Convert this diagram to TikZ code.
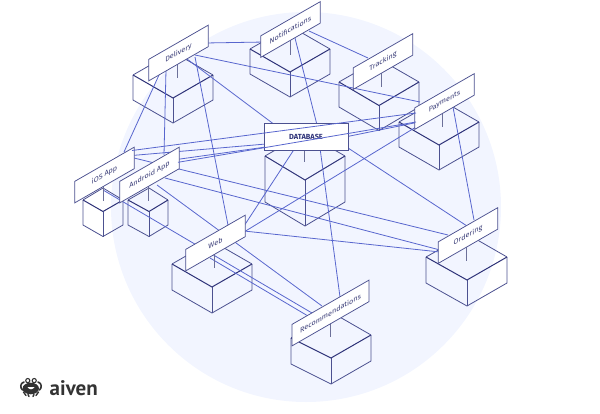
\documentclass[tikz,border=0pt]{standalone}
\usepackage{fontspec}
\setmainfont{Fira Sans}
\newfontfamily\logofont{PT Sans}
\definecolor{bg}{HTML}{F2F5FF}
\definecolor{edge}{HTML}{4C5190}
\definecolor{edgedark}{HTML}{2E3278}
\definecolor{stickc}{HTML}{6C7099}
\definecolor{linkc}{HTML}{5866CE}
\definecolor{ink}{HTML}{3A3D78}
\definecolor{logoc}{HTML}{333333}
% #1 left, #2 front, #3 right, #4 back of the top face; #5 height
\newcommand{\crate}[5]{%
  \draw[boxedge] (#2) ++(0,#5) -- (#2);
  \draw[boxedge] (#1) -- ++(0,#5) -- ($(#2)+(0,#5)$) -- ($(#3)+(0,#5)$) -- (#3);
  \draw[boxedge] (#1) -- (#4) -- (#3);
  \draw[boxtop] (#1) -- (#2) -- (#3);
}
\usetikzlibrary{calc}
\tikzset{
  boxedge/.style={draw=edge,line width=.8pt},
  boxtop/.style={draw=edgedark,line width=1pt},
  stickline/.style={draw=stickc,line width=1pt},
  link/.style={draw=linkc,line width=.8pt},
  tag/.style={draw=edge,fill=white,line width=.75pt,yslant=.575,transform shape,inner sep=0pt,
    minimum width=59.5pt,minimum height=21.5pt,text=ink,font=\fontsize{7.2}{9}\selectfont},
  dbtag/.style={draw=edge,fill=white,line width=.85pt,inner sep=0pt,minimum width=84pt,minimum height=27pt,
    text=edgedark,font=\fontsize{7.4}{9}\selectfont\bfseries},
}
\begin{document}
\begin{tikzpicture}[x=1pt,y=-1pt]
\useasboundingbox (0,0) rectangle (600,413);
\fill[bg] (306,207) circle (195pt);

% crates
\crate{133,75}{173,98}{213,75}{173,52}{25}
\crate{250,49}{290,72}{330,49}{290,26}{25}
\crate{339,82}{379,105.5}{419,82}{379,59}{25}
\crate{399,122}{439,145}{479,122}{439,99}{25}
\crate{265,156}{305,180}{345,156}{305,133}{46}
\crate{83,200}{103,211.5}{123,200}{103,188}{25}
\crate{128,200}{149,211.5}{168,200}{149,188}{25}
\crate{172,264}{212,287}{252,264}{212,241}{26}
\crate{426,257}{467,280}{507,257}{467,234}{26}
\crate{291,338}{331,358}{371,335}{331,312}{26}

% connector ends
\coordinate (delA) at (205,43);
\coordinate (delB) at (195,55);
\coordinate (delC) at (187,59);
\coordinate (delD) at (159,75);
\coordinate (delE) at (166,70);
\coordinate (delF) at (195,57);
\coordinate (notA) at (265,42);
\coordinate (notB) at (309,31);
\coordinate (notC) at (295,38);
\coordinate (traA) at (368,58);
\coordinate (payA) at (420,102);
\coordinate (payB) at (416,113);
\coordinate (payC) at (416,122);
\coordinate (payD) at (416,122.6);
\coordinate (payE) at (416,127);
\coordinate (payF) at (453,107);
\coordinate (dbA) at (275,125);
\coordinate (dbB) at (317,125);
\coordinate (dbC) at (266,144);
\coordinate (dbD) at (266,147);
\coordinate (dbE) at (345,137);
\coordinate (dbF) at (295,148);
\coordinate (dbG) at (320,148);
\coordinate (dbH) at (345,146);
\coordinate (iosA) at (124,152);
\coordinate (iosB) at (132,150.5);
\coordinate (iosC) at (132,155.5);
\coordinate (iosD) at (132,157.5);
\coordinate (iosE) at (103,190);
\coordinate (andA) at (164,155);
\coordinate (andB) at (178,159.3);
\coordinate (andC) at (178,162.3);
\coordinate (andD) at (165,178);
\coordinate (andE) at (157,185);
\coordinate (webA) at (228,225);
\coordinate (webB) at (244,226);
\coordinate (webC) at (244,232);
\coordinate (webD) at (244,231);
\coordinate (webE) at (210,258);
\coordinate (ordA) at (448,235);
\coordinate (ordB) at (440,250);
\coordinate (ordC) at (440,252);
\coordinate (ordD) at (467,226);
\coordinate (ordE) at (474,220);
\coordinate (recA) at (340,297);
\coordinate (recB) at (322,306);
\coordinate (recC) at (312,313);
\coordinate (recD) at (308,316);

% connectors
\draw[link] (delA) -- (notA);
\draw[link] (delB) -- (payA);
\draw[link] (delC) -- (dbA);
\draw[link] (delD) -- (iosA);
\draw[link] (delE) -- (andA);
\draw[link] (delF) -- (webA);
\draw[link] (notB) -- (traA);
\draw[link] (notC) -- (dbB);
\draw[link] (dbG) -- (recA);
\draw[link] (iosC) -- (dbC);
\draw[link] (andB) -- (dbD);
\draw[link] (dbE) -- (payD);
\draw[link] (iosD) -- (ordA);
\draw[link] (andD) -- (ordB);
\draw[link] (andE) -- (recB);
\draw[link] (iosE) -- (recC);
\draw[link] (webE) -- (recD);
\draw[link] (webB) -- (dbF);
\draw[link] (webC) -- (payE);
\draw[link] (webD) -- (ordC);
\draw[link] (dbH) -- (ordD);
\draw[link] (payF) -- (ordE);

% sticks
\coordinate (stA1) at (177,62); \coordinate (stA2) at (177,78);
\coordinate (stB1) at (290,38); \coordinate (stB2) at (290,55);
\coordinate (stC1) at (381,70); \coordinate (stC2) at (381,87);
\coordinate (stD1) at (442,110); \coordinate (stD2) at (442,127);
\coordinate (stE1) at (304,148); \coordinate (stE2) at (304,162);
\coordinate (stF1) at (103,185); \coordinate (stF2) at (103,201);
\coordinate (stG1) at (148,185); \coordinate (stG2) at (148,201);
\coordinate (stH1) at (214,252); \coordinate (stH2) at (214,268);
\coordinate (stI1) at (466,244); \coordinate (stI2) at (466,261);
\coordinate (stJ1) at (330,322); \coordinate (stJ2) at (330,337);
\foreach \a/\b in {stA1/stA2,stB1/stB2,stC1/stC2,stD1/stD2,stE1/stE2,stF1/stF2,stG1/stG2,stH1/stH2,stI1/stI2,stJ1/stJ2}
  \draw[stickline] (\a) -- (\b);

% labels
\node[tag] (ios) at (104.5,175) {iOS App};
\node[tag] (android) at (149.5,175) {Android App};
\node[tag] (delivery) at (178.5,53) {Delivery};
\node[tag] (notifications) at (290.5,29.5) {Notifications};
\node[tag] (tracking) at (383,61.5) {Tracking};
\node[tag] (payments) at (444.5,101.5) {Payments};
\node[tag] (web) at (215.5,243) {Web};
\node[tag] (ordering) at (468,235.5) {Ordering};
\node[tag,minimum width=77pt] (recommendations) at (330.5,313) {Recommendations};
\node[dbtag] (database) at (306,136.5) {DATABASE};

% two lines run over the DATABASE label
\draw[link] (iosB) -- (payB);
\draw[link] (andC) -- (payC);

% logo
\fill[logoc] (30.8,388.5) ellipse (8.2pt and 5.8pt);
\fill[white] (27.5,387) .. controls (29.5,390) and (32.5,390) .. (34.5,387) -- cycle;
\draw[logoc,line width=1.1pt] (27.8,380.6) circle (2.1pt) (34.2,380.6) circle (2.1pt);
\draw[logoc,line width=1.6pt,line cap=round] (24,382) .. controls (20,383) and (20,388) .. (22.5,390);
\draw[logoc,line width=1.6pt,line cap=round] (38,382) .. controls (42,383) and (42,388) .. (39.5,390);
\draw[logoc,line width=1.4pt,line cap=round] (23.5,392) -- (26,395.5) (38.5,392) -- (36,395.5) (28,394.5) -- (29,396.5) (34,394.5) -- (33,396.5);
\node[anchor=base west,inner sep=0pt,text=logoc,font=\logofont\bfseries\fontsize{21}{23}\selectfont] (logo) at (49.5,395) {aiven};
\end{tikzpicture}
\end{document}
